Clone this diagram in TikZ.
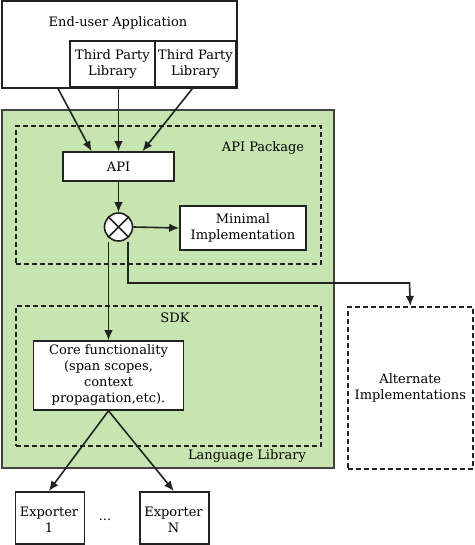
\documentclass[tikz,border=0pt]{standalone}
\usepackage{fontspec}
\setmainfont{DejaVu Serif}
\usetikzlibrary{arrows.meta}
\definecolor{libgreen}{HTML}{C6E5B1}
\definecolor{edge}{HTML}{222222}
\tikzset{
  txt/.style={font=\fontsize{13}{16}\selectfont, text=black},
  box/.style={draw=edge, line width=1.6pt, fill=white, inner sep=0pt, align=center, txt},
  dbox/.style={draw=edge, line width=1.6pt, dash pattern=on 5pt off 3pt, inner sep=0pt},
  lbl/.style={inner sep=0pt, align=center, txt},
  arr/.style={draw=edge, line width=1.6pt, -{Latex[length=10pt,width=8.5pt]}},
}
\begin{document}
\begin{tikzpicture}[x=1pt,y=-1pt]
\useasboundingbox (0,0) rectangle (474,545);
% end-user application
\node[box, minimum width=235pt, minimum height=87pt, anchor=north west] (app) at (1,0) {};
\node[lbl] (apptext) at (118,23) {End-user Application};
\node[box, minimum width=85pt, minimum height=46pt] (tp1) at (112.5,64) {Third Party\\Library};
\node[box, minimum width=81pt, minimum height=46pt] (tp2) at (195.5,64) {Third Party\\Library};
% language library
\node[draw=edge!85, line width=1.6pt, fill=libgreen, minimum width=332pt, minimum height=358pt, anchor=north west, inner sep=0pt] (lang) at (1,109) {};
\node[lbl] (langtext) at (247,456) {Language Library};
% API package
\node[dbox, minimum width=305pt, minimum height=138pt, anchor=north west] (apipkg) at (15,125) {};
\node[lbl] (apipkgtext) at (263,148) {API Package};
\node[box, minimum width=111pt, minimum height=29pt] (api) at (118.5,166.5) {API};
\node[draw=edge, line width=1.6pt, fill=white, circle, minimum size=28pt, inner sep=0pt] (mux) at (118.5,227) {};
\draw[edge, line width=1.6pt] (mux.north east) -- (mux.south west) (mux.north west) -- (mux.south east);
\node[box, minimum width=126pt, minimum height=44pt] (minimal) at (243,228) {Minimal\\Implementation};
% SDK
\node[dbox, minimum width=305pt, minimum height=140pt, anchor=north west] (sdk) at (15,305) {};
\node[lbl] (sdktext) at (175,318) {SDK};
\node[box, minimum width=150pt, minimum height=69pt] (core) at (108.5,375.5) {Core functionality\\(span scopes,\\context\\propagation,etc).};
% alternate
\node[dbox, minimum width=125pt, minimum height=162pt, anchor=north west, align=center, txt] (alt) at (347,306) {Alternate\\Implementations};
% exporters
\node[box, minimum width=69pt, minimum height=52pt, anchor=north west] (exp1) at (14.5,491) {};
\node[lbl] (exp1text) at (49,519.5) {Exporter\\1};
\node[box, minimum width=69pt, minimum height=52pt, anchor=north west] (expn) at (139,491) {};
\node[lbl] (expntext) at (173.5,519.5) {Exporter\\N};
\node[lbl] (dots) at (105,520) {...};
% connectors
\draw[arr] ([xshift=57pt]app.south west) -- ([xshift=-27pt]api.north);
\draw[arr] (tp1.south -| api.north) -- (api.north);
\draw[arr] ([xshift=-2.5pt]tp2.south) -- ([xshift=24pt]api.north);
\draw[arr] (api.south) -- (mux.north);
\draw[arr] (mux.east) -- (minimal.west);
\draw[arr] (mux.south -| core.north) -- (core.north);
\coordinate (bend1) at (128,283);
\coordinate (bend2) at (409.5,283);
\draw[arr] (mux.south -| bend1) -- (bend1) -- (bend2) -- (alt.north);
\draw[arr] (core.south) -- ([xshift=-1pt]exp1.north);
\draw[arr] (core.south) -- ([xshift=-0.5pt]expn.north);
\end{tikzpicture}
\end{document}
